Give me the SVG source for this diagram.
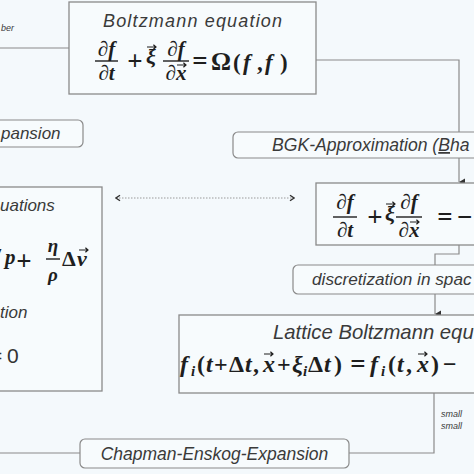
<svg xmlns="http://www.w3.org/2000/svg" xmlns:xlink="http://www.w3.org/1999/xlink" width="474" height="474" viewBox="0 0 474 474">
<style>
.box{fill:#f7fbfd;stroke:#8a8a8a;stroke-width:1.3}
.lbl{fill:#f7fbfd;stroke:#8a8a8a;stroke-width:1.2}
.t{font-family:"Liberation Sans",Arial,sans-serif;font-style:italic;fill:#3a3a3a}
.m{font-family:"Liberation Serif","DejaVu Serif",serif;font-weight:bold;font-style:italic;fill:#1e1e1e}
.up{font-style:normal}
.fl{stroke:#1e1e1e;stroke-width:1.4}
.conn{stroke:#8a8a8a;stroke-width:1.2;fill:none}
.dot{stroke:#9a9a9a;stroke-width:1;stroke-dasharray:1.5 1.5;fill:none}
</style>
<defs>
<marker id="ah" markerWidth="8" markerHeight="8" refX="4" refY="7" orient="auto-start-reverse" markerUnits="userSpaceOnUse" viewBox="0 0 8 8"><path d="M0.5 1L4 7L7.5 1Z" fill="#333"/></marker>
<marker id="ch" markerWidth="8" markerHeight="8" refX="7" refY="4" orient="auto-start-reverse" markerUnits="userSpaceOnUse" viewBox="0 0 8 8"><path d="M3 1.2L7 4L3 6.8" fill="none" stroke="#333" stroke-width="1.4"/></marker>
<path id="vec" d="M0 0h9M6.4 -2.3L9 0L6.4 2.3" stroke="#1e1e1e" stroke-width="1.2" fill="none"/>
</defs>
<rect x="0" y="0" width="474" height="474" fill="#f4f9fc"/>

<g id="connectors">
<path class="conn" d="M0 48H69"/>
<path class="conn" d="M316 60H459V132"/>
<path class="conn" d="M459 158V182" marker-end="url(#ah)"/>
<path class="conn" d="M459 245V254H435V265"/>
<path class="conn" d="M435 294V314" marker-end="url(#ah)"/>
<path class="conn" d="M434 393V453H349"/>
<path class="conn" d="M80 453H0"/>
<path class="dot" d="M116 198H294" marker-start="url(#ch)" marker-end="url(#ch)"/>
</g>

<g id="note-top-left">
<text class="t" x="1" y="31" font-size="9" fill="#666">ber</text>
</g>

<g id="boltzmann">
<rect class="box" x="69" y="2" width="247" height="92"/>
<text class="t" x="192.5" y="27" font-size="18" text-anchor="middle" textLength="179">Boltzmann equation</text>
<text class="m" x="106.5" y="56" font-size="21" text-anchor="middle">∂f</text>
<line class="fl" x1="95" y1="61" x2="118" y2="61"/>
<text class="m" x="106.5" y="80" font-size="21" text-anchor="middle">∂t</text>
<text class="m up" x="135" y="70" font-size="27" text-anchor="middle">+</text>
<text class="m" x="146" y="64" font-size="22">ξ</text>
<use xlink:href="#vec" x="147" y="47"/>
<text class="m" x="176" y="56" font-size="21" text-anchor="middle">∂f</text>
<line class="fl" x1="163" y1="61" x2="189" y2="61"/>
<text class="m" x="176" y="80" font-size="21" text-anchor="middle">∂x</text>
<use xlink:href="#vec" x="177" y="65"/>
<text class="m up" x="200" y="70" font-size="27" text-anchor="middle">=</text>
<text class="m" y="70" font-size="23"><tspan class="up" x="211" font-size="25">Ω</tspan><tspan class="up" x="233">(</tspan><tspan x="243">f</tspan><tspan class="up" x="257">,</tspan><tspan x="265">f</tspan><tspan class="up" x="280">)</tspan></text>
</g>

<g id="expansion-left">
<rect class="lbl" x="-10" y="120" width="93" height="27" rx="5"/>
<text class="t" x="1" y="139" font-size="17">pansion</text>
</g>

<g id="bgk">
<rect class="lbl" x="233" y="132" width="260" height="26" rx="5"/>
<text class="t" x="272" y="151" font-size="17.6">BGK-Approximation (<tspan text-decoration="underline">B</tspan>ha</text>
</g>

<g id="bgk-equation">
<rect class="box" x="316" y="183" width="170" height="62"/>
<text class="m" x="345" y="209" font-size="21" text-anchor="middle">∂f</text>
<line class="fl" x1="333" y1="217" x2="357" y2="217"/>
<text class="m" x="345" y="237" font-size="21" text-anchor="middle">∂t</text>
<text class="m up" x="375" y="226" font-size="27" text-anchor="middle">+</text>
<text class="m" x="385" y="221" font-size="22">ξ</text>
<use xlink:href="#vec" x="386" y="204"/>
<text class="m" x="409" y="209" font-size="21" text-anchor="middle">∂f</text>
<line class="fl" x1="396" y1="217" x2="422" y2="217"/>
<text class="m" x="409" y="237" font-size="21" text-anchor="middle">∂x</text>
<use xlink:href="#vec" x="410" y="222"/>
<text class="m up" x="445" y="226" font-size="27" text-anchor="middle">=</text>
<text class="m up" x="457" y="226" font-size="27">−</text>
</g>

<g id="navier-stokes">
<rect class="box" x="-5" y="187" width="107" height="204"/>
<text class="t" x="0" y="211" font-size="17">uations</text>
<text class="m" y="264" font-size="21"><tspan class="up" x="-14">∇</tspan><tspan x="5">p</tspan></text>
<text class="m up" x="24" y="270" font-size="27" text-anchor="middle">+</text>
<text class="m" x="53" y="252" font-size="19" text-anchor="middle">η</text>
<line class="fl" x1="46" y1="259" x2="60" y2="259"/>
<text class="m" x="53" y="281" font-size="19" text-anchor="middle">ρ</text>
<text class="m" y="266" font-size="22"><tspan class="up" x="62">Δ</tspan><tspan x="77">v</tspan></text>
<use xlink:href="#vec" x="79" y="250"/>
<text class="t" x="0" y="318" font-size="17">tion</text>
<text y="363" font-size="21" font-family="Liberation Sans, Arial, sans-serif" fill="#333"><tspan x="-10">=</tspan><tspan x="7">0</tspan></text>
</g>

<g id="discretization">
<rect class="lbl" x="293" y="265" width="200" height="29" rx="5"/>
<text class="t" x="312" y="285" font-size="17.2">discretization in spac</text>
</g>

<g id="lattice-boltzmann">
<rect class="box" x="179" y="315" width="310" height="78"/>
<text class="t" x="273" y="339" font-size="20.3">Lattice Boltzmann equ</text>
<text class="m" y="372" font-size="24"><tspan x="180">f</tspan><tspan font-size="15" x="191" dy="4">i</tspan><tspan class="up" x="197" dy="-4">(</tspan><tspan x="206">t</tspan><tspan class="up" x="214">+</tspan><tspan class="up" x="229">Δ</tspan><tspan x="245">t</tspan><tspan class="up" x="253">,</tspan><tspan x="263">x</tspan><tspan class="up" x="277">+</tspan><tspan x="292">ξ</tspan><tspan font-size="15" x="303" dy="4">i</tspan><tspan class="up" x="308" dy="-4">Δ</tspan><tspan x="324">t</tspan><tspan class="up" x="334">)</tspan></text>
<use xlink:href="#vec" x="264" y="354"/>
<text class="m up" x="358" y="373" font-size="27" text-anchor="middle">=</text>
<text class="m" y="372" font-size="24"><tspan x="370">f</tspan><tspan font-size="15" x="381" dy="4">i</tspan><tspan class="up" x="388" dy="-4">(</tspan><tspan x="397">t</tspan><tspan class="up" x="406">,</tspan><tspan x="417">x</tspan><tspan class="up" x="431">)</tspan><tspan class="up" x="443">−</tspan></text>
<use xlink:href="#vec" x="418" y="354"/>
</g>

<g id="small-note">
<text class="t" x="441" y="417" font-size="9" fill="#666">small</text>
<text class="t" x="441" y="429" font-size="9" fill="#666">small</text>
</g>

<g id="chapman-enskog">
<rect class="lbl" x="80" y="439" width="269" height="29" rx="5"/>
<text class="t" x="214.5" y="460" font-size="17.5" text-anchor="middle">Chapman-Enskog-Expansion</text>
</g>
</svg>
